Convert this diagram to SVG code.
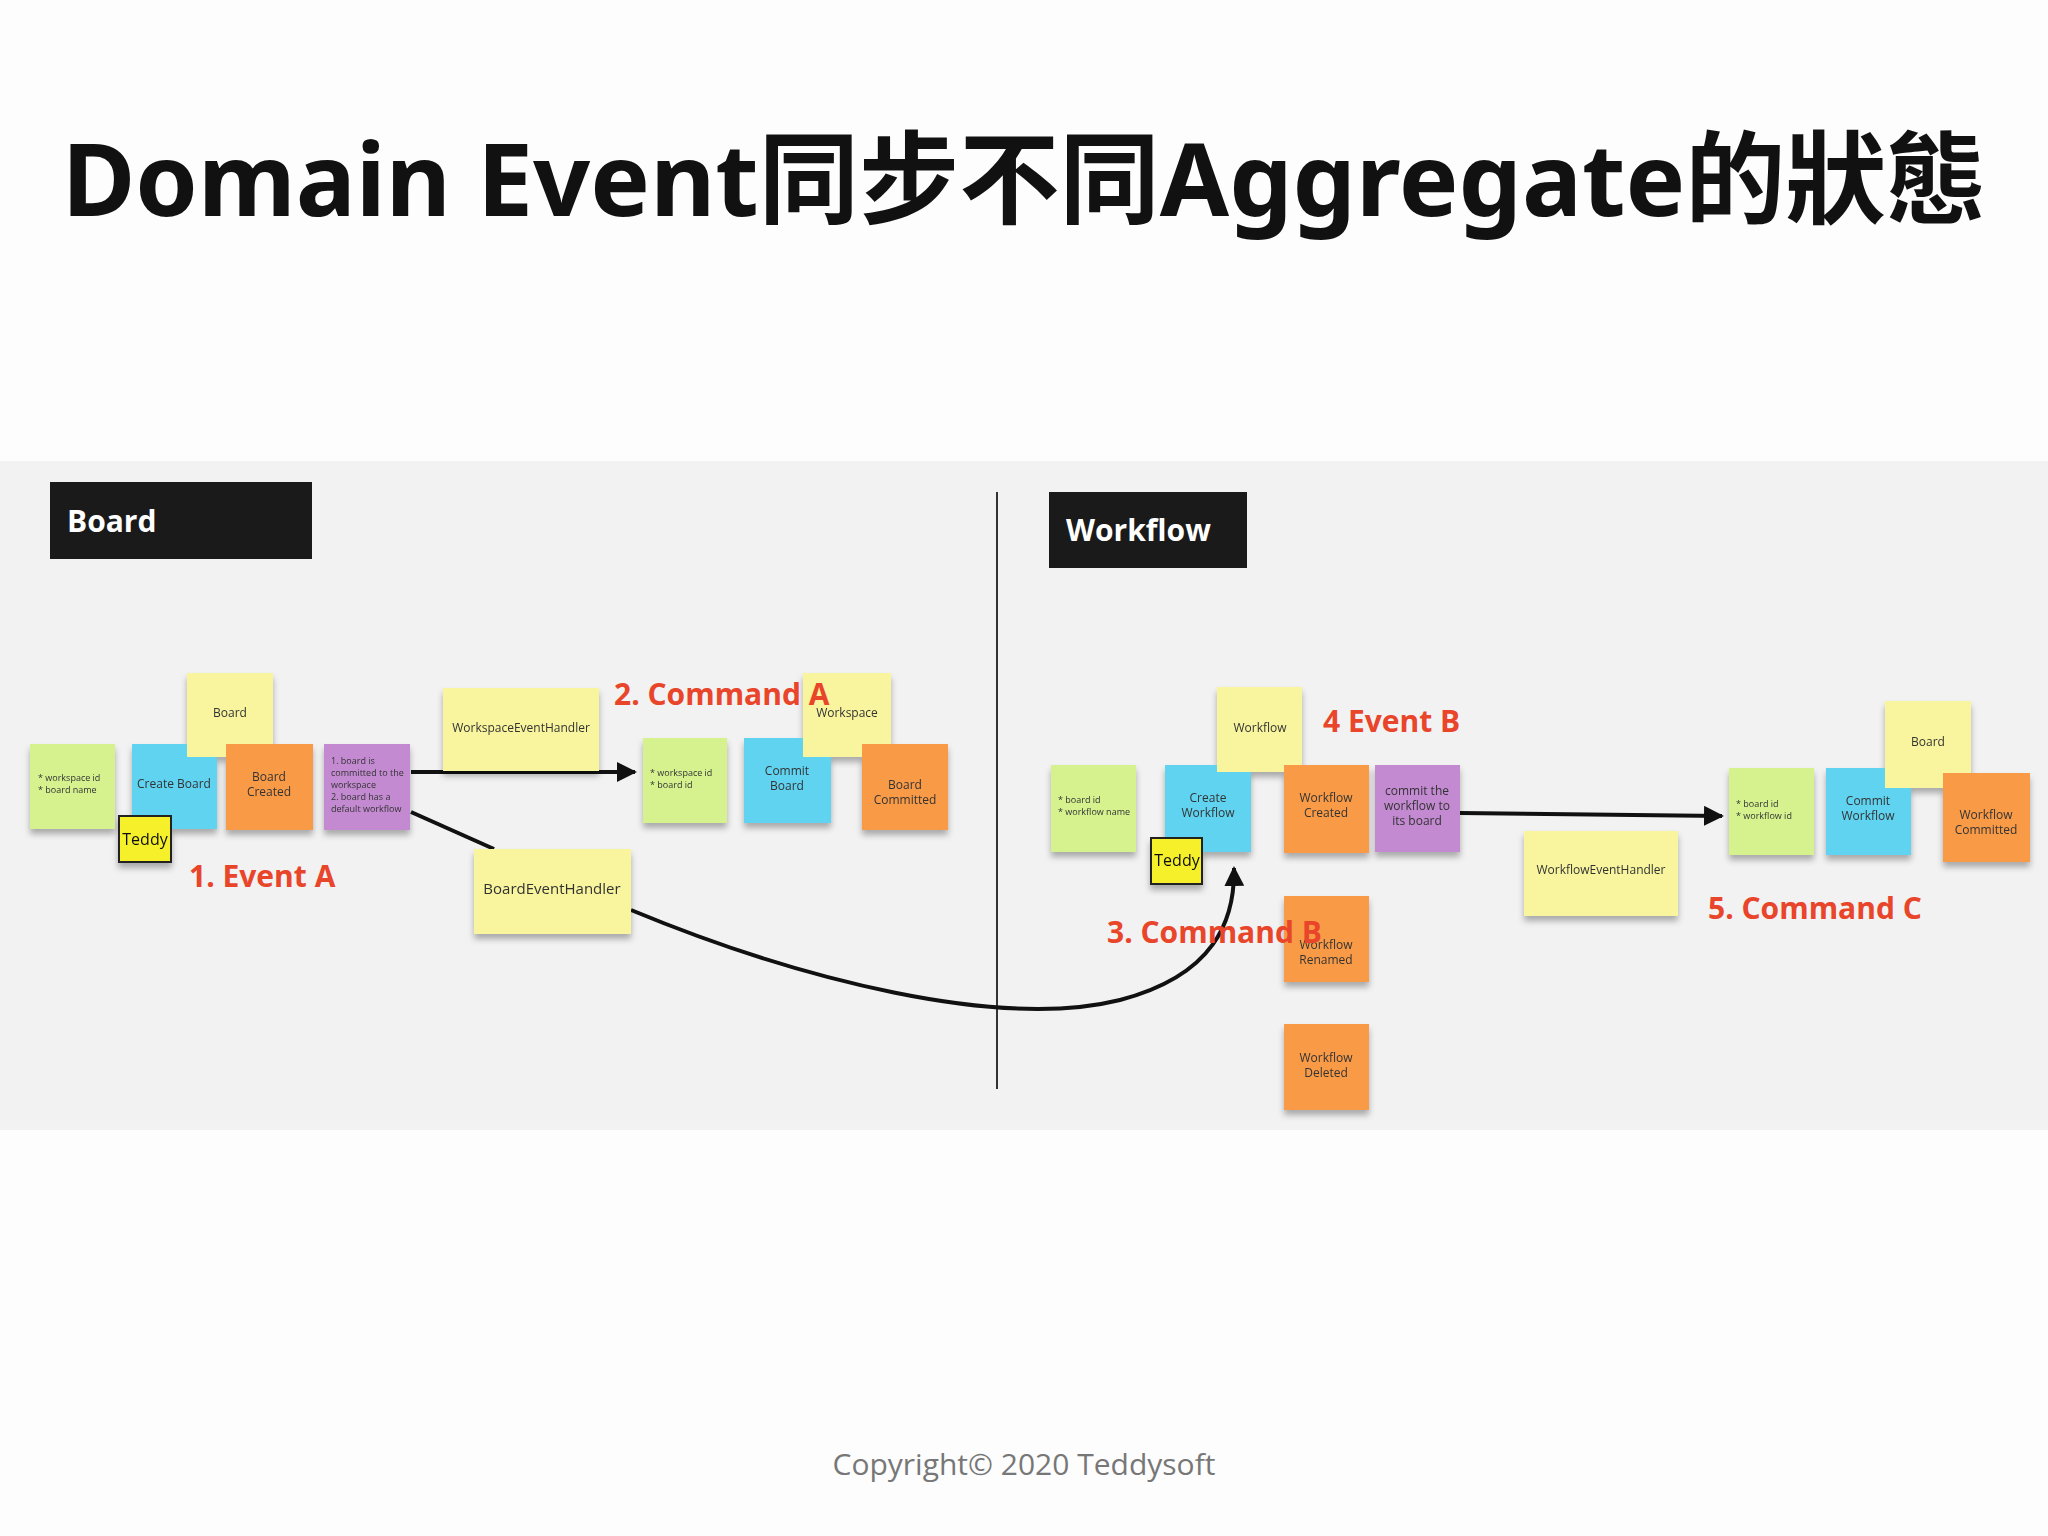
<svg xmlns="http://www.w3.org/2000/svg" width="2048" height="1536" viewBox="0 0 2048 1536">
<defs>
<style>
.n{stroke:none}
.y{fill:#f8f59e}.g{fill:#d5f28f}.b{fill:#5fd3f0}.o{fill:#f99a47}.p{fill:#c38ad1}.t{fill:#f5f02a;stroke:#222;stroke-width:2}
text{font-family:"Open Sans","Noto Sans",sans-serif}
.s{font-size:12px;fill:#333;text-anchor:middle}
.sl{font-size:9px;fill:#333}
.r{font-size:30px;font-weight:bold;fill:#e8452a}
.c{fill:none;stroke:#111;stroke-width:4}
</style>
<filter id="sh" x="-10%" y="-10%" width="130%" height="130%"><feDropShadow dx="0" dy="5" stdDeviation="3" flood-opacity="0.3"/></filter>
<marker id="ah" viewBox="0 0 10 10" refX="9" refY="5" markerWidth="5" markerHeight="5" orient="auto"><path d="M0,0L10,5L0,10z" fill="#111"/></marker>
</defs>
<rect width="2048" height="1536" fill="#fdfdfd"/>
<text x="1024" y="216" text-anchor="middle" font-size="101" font-weight="bold" textLength="1924" lengthAdjust="spacingAndGlyphs" style="font-family:'Noto Sans','Noto Sans CJK TC',sans-serif" fill="#111">Domain Event同步不同Aggregate的狀態</text>
<rect x="0" y="461" width="2048" height="669" fill="#f2f2f2"/>
<line x1="997" y1="492" x2="997" y2="1089" stroke="#333" stroke-width="2"/>
<g id="boardLabel"><rect x="50" y="482" width="262" height="77" fill="#1a1a1a"/><text x="67" y="532" font-size="30" font-weight="bold" fill="#fff">Board</text></g>
<g id="workflowLabel"><rect x="1049" y="492" width="198" height="76" fill="#1a1a1a"/><text x="1066" y="541" font-size="30" font-weight="bold" fill="#fff">Workflow</text></g>
<g id="connectors">
<line class="c" x1="411" y1="812" x2="494" y2="849"/>
<line class="c" x1="411" y1="772" x2="635" y2="772" marker-end="url(#ah)"/>
<path class="c" d="M631,910 C800,980 1000,1030 1120,1000 C1215,975 1235,920 1234,868" marker-end="url(#ah)"/>
<path class="c" d="M1460,813 L1722,816" marker-end="url(#ah)"/>
</g>
<g filter="url(#sh)">
<g id="n1"><rect class="g" x="30" y="744" width="85" height="85"/><text class="sl" x="38" y="781">* workspace id</text><text class="sl" x="38" y="793">* board name</text></g>
<g id="n2"><rect class="b" x="132" y="744" width="85" height="85"/><text class="s" x="174" y="788">Create Board</text></g>
<g id="n3"><rect class="y" x="187" y="673" width="86" height="84"/><text class="s" x="230" y="717">Board</text></g>
<g id="n4"><rect class="o" x="226" y="744" width="87" height="86"/><text class="s" x="269" y="781">Board</text><text class="s" x="269" y="796">Created</text></g>
<g id="n5"><rect class="p" x="324" y="744" width="86" height="86"/><text class="sl" x="331" y="764">1. board is</text><text class="sl" x="331" y="776">committed to the</text><text class="sl" x="331" y="788">workspace</text><text class="sl" x="331" y="800">2. board has a</text><text class="sl" x="331" y="812">default workflow</text></g>
<g id="n6"><rect class="t" x="119" y="816" width="52" height="46"/><text x="145" y="845" font-size="16" text-anchor="middle" fill="#111">Teddy</text></g>
<g id="n7"><rect class="y" x="443" y="688" width="156" height="83"/><text class="s" x="521" y="732">WorkspaceEventHandler</text></g>
<g id="n8"><rect class="y" x="474" y="849" width="157" height="85"/><text x="552" y="894" font-size="15" text-anchor="middle" fill="#333">BoardEventHandler</text></g>
<g id="n9"><rect class="g" x="643" y="738" width="84" height="85"/><text class="sl" x="650" y="776">* workspace id</text><text class="sl" x="650" y="788">* board id</text></g>
<g id="n10"><rect class="b" x="744" y="738" width="87" height="85"/><text class="s" x="787" y="775">Commit</text><text class="s" x="787" y="790">Board</text></g>
<g id="n11"><rect class="y" x="803" y="673" width="88" height="84"/><text class="s" x="847" y="717">Workspace</text></g>
<g id="n12"><rect class="o" x="862" y="744" width="86" height="86"/><text class="s" x="905" y="789">Board</text><text class="s" x="905" y="804">Committed</text></g>
<g id="n13"><rect class="g" x="1051" y="765" width="85" height="87"/><text class="sl" x="1058" y="803">* board id</text><text class="sl" x="1058" y="815">* workflow name</text></g>
<g id="n14"><rect class="b" x="1165" y="765" width="86" height="87"/><text class="s" x="1208" y="802">Create</text><text class="s" x="1208" y="817">Workflow</text></g>
<g id="n15"><rect class="y" x="1217" y="687" width="85" height="85"/><text class="s" x="1260" y="732">Workflow</text></g>
<g id="n16"><rect class="t" x="1151" y="838" width="51" height="46"/><text x="1177" y="866" font-size="16" text-anchor="middle" fill="#111">Teddy</text></g>
<g id="n17"><rect class="o" x="1284" y="765" width="85" height="88"/><text class="s" x="1326" y="802">Workflow</text><text class="s" x="1326" y="817">Created</text></g>
<g id="n18"><rect class="p" x="1375" y="765" width="85" height="87"/><text class="s" x="1417" y="795">commit the</text><text class="s" x="1417" y="810">workflow to</text><text class="s" x="1417" y="825">its board</text></g>
<g id="n19"><rect class="o" x="1284" y="896" width="85" height="86"/><text class="s" x="1326" y="949">Workflow</text><text class="s" x="1326" y="964">Renamed</text></g>
<g id="n20"><rect class="o" x="1284" y="1024" width="85" height="86"/><text class="s" x="1326" y="1062">Workflow</text><text class="s" x="1326" y="1077">Deleted</text></g>
<g id="n21"><rect class="y" x="1524" y="831" width="154" height="85"/><text class="s" x="1601" y="874">WorkflowEventHandler</text></g>
<g id="n22"><rect class="g" x="1729" y="768" width="85" height="87"/><text class="sl" x="1736" y="807">* board id</text><text class="sl" x="1736" y="819">* workflow id</text></g>
<g id="n23"><rect class="b" x="1826" y="768" width="85" height="87"/><text class="s" x="1868" y="805">Commit</text><text class="s" x="1868" y="820">Workflow</text></g>
<g id="n24"><rect class="y" x="1885" y="701" width="86" height="87"/><text class="s" x="1928" y="746">Board</text></g>
<g id="n25"><rect class="o" x="1943" y="773" width="87" height="89"/><text class="s" x="1986" y="819">Workflow</text><text class="s" x="1986" y="834">Committed</text></g>
</g>
<text class="r" x="189" y="887">1. Event A</text>
<text class="r" x="614" y="705">2. Command A</text>
<text class="r" x="1107" y="943">3. Command B</text>
<text class="r" x="1323" y="732">4 Event B</text>
<text class="r" x="1708" y="919">5. Command C</text>
<text x="1024" y="1475" text-anchor="middle" font-size="30" fill="#777">Copyright© 2020 Teddysoft</text>
</svg>
